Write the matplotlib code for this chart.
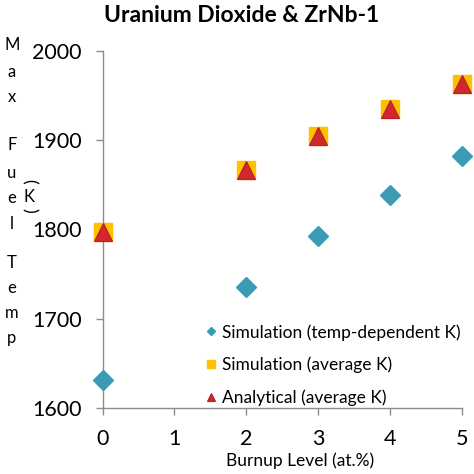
import matplotlib
matplotlib.use("Agg")
import matplotlib.pyplot as plt

# Data
burnup = [0, 2, 3, 4, 5]
sim_temp_dep = [1631, 1736, 1792, 1839, 1882]
sim_avg = [1797, 1866, 1904, 1935, 1963]
analytical_avg = [1797, 1866, 1904, 1935, 1963]

x_ticks = [0, 1, 2, 3, 4, 5]
y_ticks = [1600, 1700, 1800, 1900, 2000]

title = "Uranium Dioxide & ZrNb-1"
x_label = "Burnup Level (at.%)"
y_label_letters = ["M", "a", "x", "", "F", "u", "e", "l", "", "T", "e", "m", "p"]

plt.rcParams["font.family"] = ["Lato", "DejaVu Sans"]

W = H = 474
fig = plt.figure(figsize=(4.74, 4.74), dpi=100)
ax = fig.add_axes([102.5 / W, 1 - 408 / H, (462 - 102.5) / W, (408 - 50.7) / H])

ax.plot(burnup, sim_temp_dep, linestyle="none", marker="D", markersize=10,
        color="#3a9bb4", markeredgecolor="#3a9bb4", clip_on=False,
        label="Simulation (temp-dependent K)", zorder=3)
ax.plot(burnup, sim_avg, linestyle="none", marker="s", markersize=13.5,
        color="#ffc000", markeredgecolor="#ffc000", clip_on=False,
        label="Simulation (average K)", zorder=3)
ax.plot(burnup, analytical_avg, linestyle="none", marker="^", markersize=13,
        color="#d2272e", markeredgecolor="#b42025", markeredgewidth=0.8,
        clip_on=False, label="Analytical (average K)", zorder=4)

ax.set_xlim(0, 5)
ax.set_ylim(1600, 2000)
ax.set_xticks(x_ticks)
ax.set_yticks(y_ticks)
ax.tick_params(axis="both", direction="out", length=5, width=1, color="#8c8c8c",
               labelsize=15.5)
ax.tick_params(axis="y", pad=10)
ax.tick_params(axis="x", pad=10)
for side in ["top", "right"]:
    ax.spines[side].set_visible(False)
for side in ["left", "bottom"]:
    ax.spines[side].set_color("#8c8c8c")
    ax.spines[side].set_linewidth(1)

fig.text(242 / W, 1 - 15 / H, title, ha="center", va="center",
         fontsize=16.5, fontweight="bold")
fig.text(300 / W, 1 - 461 / H, x_label, ha="center", va="center", fontsize=12.5)

# stacked y label, one letter per line
letter_y = [45, 72, 97, 121, 145, 173, 198, 224, 244, 263, 288, 313, 338]
for letter, yy in zip(y_label_letters, letter_y):
    if letter:
        fig.text(12 / W, 1 - yy / H, letter, ha="center", va="center", fontsize=12)
fig.text(29 / W, 1 - 197 / H, "K", ha="center", va="center", fontsize=12)
fig.text(29 / W, 1 - 181 / H, "(", ha="center", va="center", fontsize=13, rotation=-90)
fig.text(29 / W, 1 - 210 / H, ")", ha="center", va="center", fontsize=13, rotation=-90)

ax.legend(loc="upper left", bbox_to_anchor=(206 / W, 1 - 324 / H),
          bbox_transform=fig.transFigure, frameon=False, fontsize=12.5,
          markerscale=0.42, handlelength=0.6, handletextpad=0.35,
          labelspacing=0.92, borderpad=0, borderaxespad=0)

fig.savefig("out.png", dpi=100)
